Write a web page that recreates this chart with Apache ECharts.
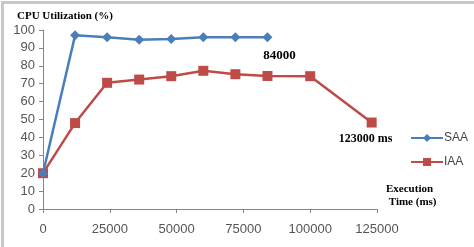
<!DOCTYPE html>
<html>
<head>
<meta charset="utf-8">
<script src="https://cdn.jsdelivr.net/npm/echarts@6/dist/echarts.min.js"></script>
<style>
  html,body{margin:0;padding:0;background:#fff;}
  #chart{width:474px;height:247px;}
</style>
</head>
<body>
<div id="chart"></div>
<script>
// execution time (ms) and CPU utilization (%)
var saaTime = [0, 12000, 24000, 36000, 48000, 60000, 72000, 84000];
var saaCpu  = [20, 97, 96, 94.5, 95, 96, 96, 96];
var iaaTime = [0, 12000, 24000, 36000, 48000, 60000, 72000, 84000, 100000, 123000];
var iaaCpu  = [20, 48, 70.5, 72.3, 74.2, 77.2, 75.3, 74.3, 74.2, 48.3];
var seriesNames = ['SAA', 'IAA'];

function pairs(xs, ys){
  var out = [];
  for (var i = 0; i < xs.length; i++) out.push([xs[i], ys[i]]);
  return out;
}

var saaData = pairs(saaTime, saaCpu);
var iaaData = pairs(iaaTime, iaaCpu);
var serifBold = {fontFamily:'Liberation Serif', fontWeight:'bold', color:'#000'};

// end labels
saaData[saaData.length-1] = {
  value: saaData[saaData.length-1],
  label: Object.assign({show:true, formatter:'84000', position:'bottom', offset:[12,2], fontSize:13}, serifBold)
};
iaaData[iaaData.length-1] = {
  value: iaaData[iaaData.length-1],
  label: Object.assign({show:true, formatter:'123000 ms', position:'bottom', offset:[-6,0], fontSize:12}, serifBold)
};

var myChart = echarts.init(document.getElementById('chart'));
myChart.setOption({
  animation:false,
  backgroundColor:'#fff',
  color:['#4a7ebb','#be4b48'],
  graphic:[
    {type:'rect', left:0, top:0, shape:{width:473, height:246},
     style:{fill:'none', stroke:'#c8c8c8', lineWidth:3}, silent:true},
    {type:'text', left:386, top:183,
     style:{text:'Execution\n Time (ms)', font:'bold 11px "Liberation Serif"', fill:'#000', lineHeight:13}}
  ],
  grid:{left:43, right:97, top:30, bottom:38},
  legend:{
    data:seriesNames, orient:'vertical', left:405, top:127,
    itemWidth:32, itemHeight:10, itemGap:12,
    textStyle:{fontFamily:'Liberation Sans', fontSize:12, color:'#444', padding:[0,0,0,-4]}
  },
  xAxis:{
    type:'value', min:0, max:125000, interval:25000,
    splitLine:{show:false},
    axisLine:{lineStyle:{color:'#868686'}},
    axisTick:{show:true, length:4, lineStyle:{color:'#868686'}},
    axisLabel:{fontFamily:'Liberation Sans', fontSize:13, color:'#555', margin:14,
      formatter:function(v){ return String(v); }}
  },
  yAxis:{
    type:'value', min:0, max:100, interval:10,
    name:'CPU Utilization (%)', nameLocation:'end', nameGap:8,
    nameTextStyle:{fontFamily:'Liberation Serif', fontWeight:'bold', fontSize:11, color:'#000', align:'left', padding:[0,0,0,-26]},
    splitLine:{show:false},
    axisLine:{show:true, lineStyle:{color:'#868686'}},
    axisTick:{show:true, length:4, lineStyle:{color:'#868686'}},
    axisLabel:{fontFamily:'Liberation Sans', fontSize:13, color:'#555', margin:8}
  },
  series:[
    {name:seriesNames[0], type:'line', data:saaData, symbol:'diamond', symbolSize:10,
     lineStyle:{width:2.5}, z:3},
    {name:seriesNames[1], type:'line', data:iaaData, symbol:'rect', symbolSize:10,
     lineStyle:{width:2.5}, z:2}
  ]
});
</script>
</body>
</html>
